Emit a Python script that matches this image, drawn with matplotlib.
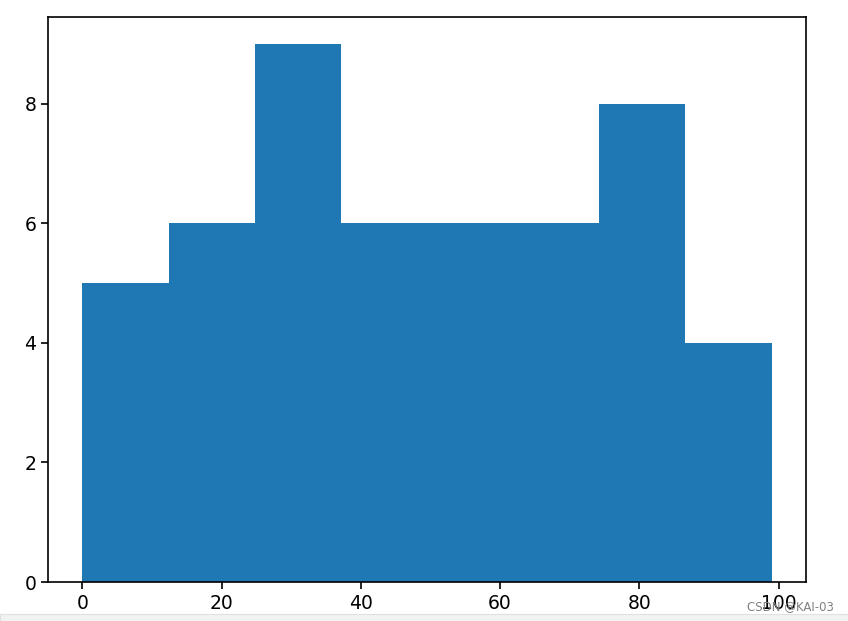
import numpy as np
import matplotlib.pyplot as plt
from matplotlib.patches import Rectangle

# histogram: 8 bins over 0..99
bin_edges = np.linspace(0, 99, 9)
counts = [5, 6, 9, 6, 6, 6, 8, 4]

plt.rcParams['font.size'] = 13.5
fig = plt.figure(figsize=(8.48, 6.21), dpi=100)
ax = fig.add_axes([48 / 848, 1 - 582 / 621, (806 - 48) / 848, (582 - 17) / 621])

ax.hist(bin_edges[:-1], bins=bin_edges, weights=counts, color='#1f77b4')
ax.set_xticks([0, 20, 40, 60, 80, 100])
ax.set_yticks([0, 2, 4, 6, 8])
for s in ax.spines.values():
    s.set_linewidth(1.2)
ax.tick_params(width=1.2, length=5)

# screenshot footer strip + watermark
fig.patches.append(Rectangle((0, 0), 1, 7 / 621, transform=fig.transFigure,
                             facecolor='#f2f2f2', edgecolor='#e0e0e0', lw=0.8))
fig.text(0.983, 0.024, 'CSDN @KAI-03', ha='right', va='center',
         fontsize=8.5, color='#808080')

fig.savefig('out.png', dpi=100)
